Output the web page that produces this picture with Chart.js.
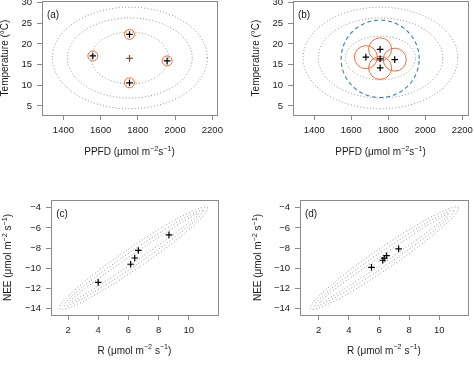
<!DOCTYPE html>
<html lang="en">
<head>
    <meta charset="UTF-8">
    <title>PPFD / temperature and R / NEE</title>
    <script src="https://cdn.jsdelivr.net/npm/chart.js@4"></script>
    <style>
        body { margin: 0; background: #fff; }
        #wrap { position: relative; width: 474px; height: 368px; overflow: hidden; }
        canvas { position: absolute; }
    </style>
</head>
<body>
    <div id="wrap">
        <canvas id="pa" width="237" height="184" style="left:0;top:0"></canvas>
        <canvas id="pb" width="237" height="184" style="left:237px;top:0"></canvas>
        <canvas id="pc" width="237" height="184" style="left:0;top:184px"></canvas>
        <canvas id="pd" width="237" height="184" style="left:237px;top:184px"></canvas>
    </div>
    <script>
        // Tick labels
        const topXTicks = [1400, 1600, 1800, 2000, 2200];
        const topYTicks = [5, 10, 15, 20, 25, 30];
        const botXTicks = [2, 4, 6, 8, 10];
        const botYTicks = [-14, -12, -10, -8, -6, -4];

        // (a) design points around the centre
        const aPPFD = [1755, 1558, 1957, 1755];
        const aTemp = [22.3, 17.1, 15.9, 10.6];
        const aCentre = [1755, 16.5];
        // (a) gray ellipses: centre and semi axes
        const aEllCentre = [1757, 16.6];
        const aEllRx = [208, 335, 416];
        const aEllRy = [6.3, 9.7, 12.3];

        // (b) design points
        const bPPFD = [1756, 1679, 1835, 1756];
        const bTemp = [18.7, 16.8, 16.2, 14.2];
        const bCentre = [1756, 16.4];
        const bEllCentre = [1758, 16.6];
        const bEllRx = [190, 337, 418];
        const bEllRy = [5.3, 9.7, 12.3];
        const bBlueR = [211, 9.35];

        // (c) and (d) R vs NEE
        const cR = [4.0, 6.15, 6.42, 6.66, 8.69];
        const cNEE = [-11.39, -9.6, -8.98, -8.23, -6.69];
        const dR = [5.5, 6.25, 6.35, 6.5, 7.3];
        const dNEE = [-9.9, -9.2, -9.0, -8.75, -8.07];
        // ellipses: centre, major and minor half axis vectors (data units)
        const botEllCentre = [6.35, -9.0];
        const botEllMajor = [[4.9, 5.0], [4.6, 4.7], [4.3, 4.4]];
        const botEllMinor = [[0.39, -0.86], [0.26, -0.57], [0.13, -0.29]];

        const FONT = "'Liberation Sans', Arial, sans-serif";
        const ORANGE = '#e4703f';
        const GRAY = '#8a8a8a';
        const DOTS = '#909090';
        const TXT = '#1a1a1a';

        const ppfdTitle = [['PPFD (\u03bcmol m', 0], ['\u22122', 1], ['s', 0], ['\u22121', 1], [')', 0]];
        const tempTitle = [['Temperature (\u00b0C)', 0]];
        const neeTitle = [['NEE (\u03bcmol m', 0], ['\u22122', 1], [' s', 0], ['\u22121', 1], [')', 0]];
        const rTitle = [['R (\u03bcmol m', 0], ['\u22122', 1], [' s', 0], ['\u22121', 1], [')', 0]];

        const extras = {};

        function pts(xs, ys) {
            return xs.map((v, i) => ({ x: v, y: ys[i] }));
        }

        function axisEllipses(c, rx, ry) {
            return rx.map((r, i) => ({ c: c, a: [r, 0], b: [0, ry[i]], color: DOTS, dash: [1, 2.2], width: 1 }));
        }

        // draws text with superscripts, centred on (0,0)
        function richText(ctx, parts, size) {
            const supSize = size * 0.72;
            let total = 0;
            const widths = parts.map(p => {
                ctx.font = (p[1] ? supSize : size) + 'px ' + FONT;
                const w = ctx.measureText(p[0]).width;
                total += w;
                return w;
            });
            let x = -total / 2;
            ctx.textAlign = 'left';
            ctx.textBaseline = 'alphabetic';
            parts.forEach((p, i) => {
                ctx.font = (p[1] ? supSize : size) + 'px ' + FONT;
                ctx.fillText(p[0], x, size * 0.36 - (p[1] ? size * 0.45 : 0));
                x += widths[i];
            });
        }

        const panelPlugin = {
            id: 'panel',
            beforeDatasetsDraw(chart) {
                const p = extras[chart.canvas.id];
                const { ctx, chartArea: a, scales: { x, y } } = chart;
                ctx.save();
                ctx.beginPath();
                ctx.rect(a.left, a.top, a.right - a.left, a.bottom - a.top);
                ctx.clip();
                p.ellipses.forEach(e => {
                    const cx = x.getPixelForValue(e.c[0]), cy = y.getPixelForValue(e.c[1]);
                    const ax = x.getPixelForValue(e.c[0] + e.a[0]) - cx, ay = y.getPixelForValue(e.c[1] + e.a[1]) - cy;
                    const bx = x.getPixelForValue(e.c[0] + e.b[0]) - cx, by = y.getPixelForValue(e.c[1] + e.b[1]) - cy;
                    ctx.beginPath();
                    for (let i = 0; i <= 240; i++) {
                        const t = i / 240 * Math.PI * 2;
                        const px = cx + ax * Math.cos(t) + bx * Math.sin(t);
                        const py = cy + ay * Math.cos(t) + by * Math.sin(t);
                        if (i === 0) ctx.moveTo(px, py); else ctx.lineTo(px, py);
                    }
                    ctx.strokeStyle = e.color;
                    ctx.lineWidth = e.width;
                    ctx.setLineDash(e.dash);
                    ctx.stroke();
                });
                ctx.restore();
            },
            afterDraw(chart) {
                const p = extras[chart.canvas.id];
                const { ctx, chartArea: a } = chart;
                ctx.save();
                // box
                ctx.strokeStyle = GRAY;
                ctx.lineWidth = 1;
                ctx.strokeRect(Math.round(a.left) + 0.5, Math.round(a.top) + 0.5,
                    Math.round(a.right - a.left), Math.round(a.bottom - a.top));
                ctx.fillStyle = TXT;
                // panel letter
                ctx.font = '10px ' + FONT;
                ctx.textAlign = 'center';
                ctx.textBaseline = 'middle';
                ctx.fillText(p.letter, a.left + 11, a.top + 14.5);
                // axis titles
                ctx.save();
                ctx.translate((a.left + a.right) / 2, a.bottom + p.xTitleGap);
                richText(ctx, p.xTitle, 10);
                ctx.restore();
                ctx.save();
                ctx.translate(a.left - p.yTitleGap, (a.top + a.bottom) / 2);
                ctx.rotate(-Math.PI / 2);
                richText(ctx, p.yTitle, 10);
                ctx.restore();
                ctx.restore();
            }
        };

        function fmt(v) {
            return String(v).replace('-', '\u2212');
        }

        function axis(min, max, ticks, fit) {
            return {
                type: 'linear',
                min: min,
                max: max,
                afterBuildTicks: s => { s.ticks = ticks.map(v => ({ value: v })); },
                afterFit: fit,
                grid: { display: true, drawOnChartArea: false, drawTicks: true, tickLength: 5, color: GRAY, lineWidth: 1 },
                border: { display: false },
                ticks: {
                    font: { family: FONT, size: 9.5 },
                    color: TXT,
                    padding: 5,
                    autoSkip: false,
                    maxRotation: 0,
                    callback: v => fmt(v)
                }
            };
        }

        function makePanel(id, cfg) {
            extras[id] = cfg;
            new Chart(document.getElementById(id), {
                type: 'scatter',
                data: { datasets: cfg.datasets },
                options: {
                    responsive: false,
                    animation: false,
                    devicePixelRatio: 1,
                    events: [],
                    layout: { autoPadding: false, padding: { top: cfg.top, right: cfg.padRight, left: 0, bottom: 0 } },
                    plugins: { legend: { display: false }, tooltip: { enabled: false } },
                    scales: {
                        x: axis(cfg.xRange[0], cfg.xRange[1], cfg.xTicks, s => {
                            s.height = cfg.xHeight; s.paddingLeft = 0; s.paddingRight = 0;
                        }),
                        y: axis(cfg.yRange[0], cfg.yRange[1], cfg.yTicks, s => {
                            s.width = cfg.yWidth; s.paddingTop = 0; s.paddingBottom = 0;
                        })
                    }
                },
                plugins: [panelPlugin]
            });
        }

        function plus(data, color, order) {
            return { data: data, pointStyle: 'cross', pointRadius: 3.3, borderColor: color, borderWidth: 1.2, order: order };
        }

        function rings(data, r) {
            return { data: data, pointStyle: 'circle', pointRadius: r, borderColor: ORANGE, backgroundColor: 'rgba(0,0,0,0)', borderWidth: 1, order: 2 };
        }

        makePanel('pa', {
            letter: '(a)', xTitle: ppfdTitle, yTitle: tempTitle, xTitleGap: 36.5, yTitleGap: 38,
            top: 1, padRight: 20, yWidth: 42, xHeight: 69,
            xRange: [1285, 2225], yRange: [2.8, 30.4], xTicks: topXTicks, yTicks: topYTicks,
            ellipses: axisEllipses(aEllCentre, aEllRx, aEllRy),
            datasets: [
                plus(pts(aPPFD, aTemp), '#000', 0),
                plus([{ x: aCentre[0], y: aCentre[1] }], '#8e4a1c', 0),
                rings(pts(aPPFD, aTemp), 5)
            ]
        });

        makePanel('pb', {
            letter: '(b)', xTitle: ppfdTitle, yTitle: tempTitle, xTitleGap: 36.5, yTitleGap: 37.5,
            top: 1, padRight: 6, yWidth: 56, xHeight: 69,
            xRange: [1285, 2231], yRange: [2.8, 30.4], xTicks: topXTicks, yTicks: topYTicks,
            ellipses: axisEllipses(bEllCentre, bEllRx, bEllRy).concat([
                { c: bCentre, a: [bBlueR[0], 0], b: [0, bBlueR[1]], color: '#3f78ad', dash: [4, 3], width: 1.1 }
            ]),
            datasets: [
                plus(pts(bPPFD, bTemp), '#000', 0),
                plus([{ x: bCentre[0], y: bCentre[1] }], '#000', 0),
                rings(pts(bPPFD, bTemp), 11.5)
            ]
        });

        function botEllipses() {
            return botEllMajor.map((m, i) => ({ c: botEllCentre, a: m, b: botEllMinor[i], color: DOTS, dash: [1, 2.2], width: 1 }));
        }

        makePanel('pc', {
            letter: '(c)', xTitle: rTitle, yTitle: neeTitle, xTitleGap: 35, yTitleGap: 43.5,
            top: 16, padRight: 19, yWidth: 51, xHeight: 53,
            xRange: [0.87, 11.94], yRange: [-14.62, -3.24], xTicks: botXTicks, yTicks: botYTicks,
            ellipses: botEllipses(),
            datasets: [plus(pts(cR, cNEE), '#000', 0)]
        });

        makePanel('pd', {
            letter: '(d)', xTitle: rTitle, yTitle: neeTitle, xTitleGap: 35, yTitleGap: 42.5,
            top: 16, padRight: 6, yWidth: 63, xHeight: 53,
            xRange: [0.76, 11.9], yRange: [-14.62, -3.24], xTicks: botXTicks, yTicks: botYTicks,
            ellipses: botEllipses(),
            datasets: [plus(pts(dR, dNEE), '#000', 0)]
        });
    </script>
</body>
</html>
